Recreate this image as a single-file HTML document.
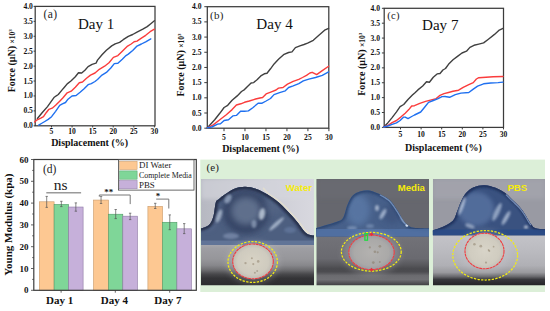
<!DOCTYPE html>
<html><head><meta charset="utf-8"><style>
html,body{margin:0;padding:0;background:#fff;}
body{width:550px;height:311px;overflow:hidden;position:relative;}
svg{position:absolute;left:0;top:0;display:block;}
text{font-family:"Liberation Serif",serif;fill:#111;}
.tk{font-size:7.6px;font-weight:bold;}
.tkd{font-size:9px;font-weight:bold;}
.xl{font-size:10px;font-weight:bold;}
.yl{font-size:10px;font-weight:bold;}
.yls{font-size:7.5px;font-weight:bold;}
.yls2{font-size:5px;font-weight:bold;}
.pl{font-size:11.5px;fill:#222;}
.day{font-size:16px;fill:#111;}
.dl{font-size:11px;font-weight:bold;}
.ns{font-size:15.5px;fill:#222;}
.star{font-size:9px;font-weight:bold;}
.lg{font-size:8.9px;fill:#222;}
.ph{font-family:"Liberation Sans",sans-serif;font-size:9.6px;font-weight:bold;fill:#f6ec0a;}
</style></head><body>
<svg width="550" height="311" viewBox="0 0 550 311">
<rect x="35.2" y="6.4" width="119.8" height="119.39999999999999" fill="none" stroke="#3c3c3c" stroke-width="1.25"/>
<line x1="33.6" y1="125.80" x2="35.2" y2="125.80" stroke="#3c3c3c" stroke-width="1"/>
<text x="32.9" y="128.30" class="tk" text-anchor="end">0.0</text>
<line x1="33.6" y1="110.88" x2="35.2" y2="110.88" stroke="#3c3c3c" stroke-width="1"/>
<text x="32.9" y="113.38" class="tk" text-anchor="end">0.5</text>
<line x1="33.6" y1="95.95" x2="35.2" y2="95.95" stroke="#3c3c3c" stroke-width="1"/>
<text x="32.9" y="98.45" class="tk" text-anchor="end">1.0</text>
<line x1="33.6" y1="81.03" x2="35.2" y2="81.03" stroke="#3c3c3c" stroke-width="1"/>
<text x="32.9" y="83.53" class="tk" text-anchor="end">1.5</text>
<line x1="33.6" y1="66.10" x2="35.2" y2="66.10" stroke="#3c3c3c" stroke-width="1"/>
<text x="32.9" y="68.60" class="tk" text-anchor="end">2.0</text>
<line x1="33.6" y1="51.17" x2="35.2" y2="51.17" stroke="#3c3c3c" stroke-width="1"/>
<text x="32.9" y="53.67" class="tk" text-anchor="end">2.5</text>
<line x1="33.6" y1="36.25" x2="35.2" y2="36.25" stroke="#3c3c3c" stroke-width="1"/>
<text x="32.9" y="38.75" class="tk" text-anchor="end">3.0</text>
<line x1="33.6" y1="21.33" x2="35.2" y2="21.33" stroke="#3c3c3c" stroke-width="1"/>
<text x="32.9" y="23.83" class="tk" text-anchor="end">3.5</text>
<line x1="33.6" y1="6.40" x2="35.2" y2="6.40" stroke="#3c3c3c" stroke-width="1"/>
<text x="32.9" y="8.90" class="tk" text-anchor="end">4.0</text>
<line x1="51.50" y1="125.8" x2="51.50" y2="127.39999999999999" stroke="#3c3c3c" stroke-width="1"/>
<text x="51.50" y="133.6" class="tk" text-anchor="middle">5</text>
<line x1="72.08" y1="125.8" x2="72.08" y2="127.39999999999999" stroke="#3c3c3c" stroke-width="1"/>
<text x="72.08" y="133.6" class="tk" text-anchor="middle">10</text>
<line x1="92.66" y1="125.8" x2="92.66" y2="127.39999999999999" stroke="#3c3c3c" stroke-width="1"/>
<text x="92.66" y="133.6" class="tk" text-anchor="middle">15</text>
<line x1="113.24" y1="125.8" x2="113.24" y2="127.39999999999999" stroke="#3c3c3c" stroke-width="1"/>
<text x="113.24" y="133.6" class="tk" text-anchor="middle">20</text>
<line x1="133.82" y1="125.8" x2="133.82" y2="127.39999999999999" stroke="#3c3c3c" stroke-width="1"/>
<text x="133.82" y="133.6" class="tk" text-anchor="middle">25</text>
<line x1="154.40" y1="125.8" x2="154.40" y2="127.39999999999999" stroke="#3c3c3c" stroke-width="1"/>
<text x="154.40" y="133.6" class="tk" text-anchor="middle">30</text>
<text x="89.6" y="145.5" class="xl" text-anchor="middle">Displacement (%)</text>
<text transform="translate(15.4,92.3) rotate(-90)" class="yl" text-anchor="start">Force (μN) <tspan class="yls">×10</tspan><tspan class="yls2" dy="-3">3</tspan></text>
<text x="43.6" y="17.9" class="pl" style="font-size:11.5px;letter-spacing:0.3px">(a)</text>
<text x="78" y="28.8" class="day" style="font-size:15px">Day 1</text>
<polyline points="37.4,118.5 42.1,112.7 47.5,106.6 50.9,101.9 54.3,97.2 56.3,95.8 58.3,94.5 61.7,90.4 64.4,87.2 67.2,83.9 71.2,80.7 75.3,76.7 78.5,72.7 81.7,73.0 84.9,70.3 88.1,66.6 92.1,64.3 96.0,63.2 97.5,60.1 102.0,54.8 106.4,50.3 111.7,45.9 115.2,43.8 119.6,42.4 123.2,39.7 128.3,36.4 132.7,34.5 137.0,32.1 142.8,29.2 147.2,26.6 150.8,23.7 154.4,20.8" fill="none" stroke="#404040" stroke-width="1.4" stroke-linejoin="round" stroke-linecap="round"/>
<polyline points="34.7,122.1 36.7,120.1 40.8,118.1 43.5,116.7 46.2,112.7 48.9,109.3 52.2,108.2 55.6,105.3 59.7,101.2 63.0,97.8 67.2,92.8 71.2,91.2 75.3,87.2 79.3,82.7 82.5,82.0 86.5,78.3 90.5,75.1 95.0,73.0 99.3,69.3 104.6,66.2 109.0,62.7 113.4,57.4 117.9,55.6 122.3,51.2 127.6,46.1 131.2,44.0 134.1,41.8 137.0,41.1 141.4,38.2 145.7,35.3 150.1,31.7 154.4,29.2" fill="none" stroke="#fa3c3c" stroke-width="1.4" stroke-linejoin="round" stroke-linecap="round"/>
<polyline points="38.7,125.2 41.4,123.5 44.8,121.5 48.2,119.4 51.6,116.7 55.6,111.3 59.7,105.3 62.4,103.9 65.5,102.5 68.0,99.2 72.0,96.0 76.1,95.5 80.1,92.3 84.1,88.8 88.1,84.7 91.3,83.6 95.0,81.5 97.5,79.5 102.0,75.1 106.4,72.4 110.8,68.0 114.3,63.6 117.9,63.2 122.3,59.2 126.0,55.6 128.3,54.1 132.7,50.5 137.0,46.1 141.4,44.0 145.7,41.8 150.8,38.9" fill="none" stroke="#1f70f0" stroke-width="1.4" stroke-linejoin="round" stroke-linecap="round"/>
<rect x="207.3" y="6.7" width="121.5" height="121.49999999999999" fill="none" stroke="#3c3c3c" stroke-width="1.25"/>
<line x1="204.3" y1="128.20" x2="207.3" y2="128.20" stroke="#3c3c3c" stroke-width="1"/>
<text x="201.5" y="130.70" class="tk" text-anchor="end">0.0</text>
<line x1="204.3" y1="113.01" x2="207.3" y2="113.01" stroke="#3c3c3c" stroke-width="1"/>
<text x="201.5" y="115.51" class="tk" text-anchor="end">0.5</text>
<line x1="204.3" y1="97.82" x2="207.3" y2="97.82" stroke="#3c3c3c" stroke-width="1"/>
<text x="201.5" y="100.32" class="tk" text-anchor="end">1.0</text>
<line x1="204.3" y1="82.64" x2="207.3" y2="82.64" stroke="#3c3c3c" stroke-width="1"/>
<text x="201.5" y="85.14" class="tk" text-anchor="end">1.5</text>
<line x1="204.3" y1="67.45" x2="207.3" y2="67.45" stroke="#3c3c3c" stroke-width="1"/>
<text x="201.5" y="69.95" class="tk" text-anchor="end">2.0</text>
<line x1="204.3" y1="52.26" x2="207.3" y2="52.26" stroke="#3c3c3c" stroke-width="1"/>
<text x="201.5" y="54.76" class="tk" text-anchor="end">2.5</text>
<line x1="204.3" y1="37.08" x2="207.3" y2="37.08" stroke="#3c3c3c" stroke-width="1"/>
<text x="201.5" y="39.58" class="tk" text-anchor="end">3.0</text>
<line x1="204.3" y1="21.89" x2="207.3" y2="21.89" stroke="#3c3c3c" stroke-width="1"/>
<text x="201.5" y="24.39" class="tk" text-anchor="end">3.5</text>
<line x1="204.3" y1="6.70" x2="207.3" y2="6.70" stroke="#3c3c3c" stroke-width="1"/>
<text x="201.5" y="9.20" class="tk" text-anchor="end">4.0</text>
<line x1="224.00" y1="128.2" x2="224.00" y2="131.2" stroke="#3c3c3c" stroke-width="1"/>
<text x="224.00" y="139.7" class="tk" text-anchor="middle">5</text>
<line x1="244.98" y1="128.2" x2="244.98" y2="131.2" stroke="#3c3c3c" stroke-width="1"/>
<text x="244.98" y="139.7" class="tk" text-anchor="middle">10</text>
<line x1="265.96" y1="128.2" x2="265.96" y2="131.2" stroke="#3c3c3c" stroke-width="1"/>
<text x="265.96" y="139.7" class="tk" text-anchor="middle">15</text>
<line x1="286.94" y1="128.2" x2="286.94" y2="131.2" stroke="#3c3c3c" stroke-width="1"/>
<text x="286.94" y="139.7" class="tk" text-anchor="middle">20</text>
<line x1="307.92" y1="128.2" x2="307.92" y2="131.2" stroke="#3c3c3c" stroke-width="1"/>
<text x="307.92" y="139.7" class="tk" text-anchor="middle">25</text>
<line x1="328.90" y1="128.2" x2="328.90" y2="131.2" stroke="#3c3c3c" stroke-width="1"/>
<text x="328.90" y="139.7" class="tk" text-anchor="middle">30</text>
<text x="260.6" y="152" class="xl" text-anchor="middle">Displacement (%)</text>
<text transform="translate(184,96.5) rotate(-90)" class="yl" text-anchor="start">Force (μN) <tspan class="yls">×10</tspan><tspan class="yls2" dy="-3">3</tspan></text>
<text x="210" y="18.9" class="pl" style="font-size:11px;letter-spacing:0.3px">(b)</text>
<text x="256.3" y="28.6" class="day" style="font-size:15.1px">Day 4</text>
<polyline points="207.4,127.8 214.7,119.8 219.8,113.3 224.1,107.5 227.7,105.3 232.1,100.2 237.2,95.9 241.5,91.5 244.5,89.6 247.5,86.5 251.1,83.0 253.7,82.6 257.3,79.4 260.8,75.9 264.3,73.8 267.0,73.3 270.5,68.8 274.1,63.9 278.5,59.3 284.1,54.3 288.6,52.5 292.0,51.9 295.4,47.6 299.9,45.8 304.0,44.5 307.6,43.2 313.3,40.3 318.9,35.3 324.6,30.2 328.6,28.3" fill="none" stroke="#404040" stroke-width="1.4" stroke-linejoin="round" stroke-linecap="round"/>
<polyline points="207.4,127.8 213.2,124.9 219.8,119.8 226.3,114.7 232.1,109.6 236.4,105.0 240.8,103.8 244.5,102.3 249.3,101.0 254.6,99.3 259.9,98.0 262.6,97.5 266.1,93.9 271.4,91.8 276.0,90.0 278.5,88.1 283.0,87.5 287.5,84.1 293.2,81.4 298.8,79.4 302.5,77.5 306.5,75.3 309.9,73.0 312.2,72.3 316.7,74.6 321.2,71.4 328.6,66.2" fill="none" stroke="#fa3c3c" stroke-width="1.4" stroke-linejoin="round" stroke-linecap="round"/>
<polyline points="207.4,127.8 211.8,127.0 217.6,124.1 220.5,123.8 224.1,120.5 228.5,119.8 232.8,115.9 236.4,115.4 240.8,111.1 244.5,111.2 248.4,110.9 252.8,107.7 258.1,103.3 261.7,103.3 266.1,101.0 270.5,98.5 274.0,94.6 279.6,92.6 285.3,90.8 288.6,87.5 293.2,85.9 298.8,83.6 303.3,80.9 308.8,79.1 315.5,77.5 322.3,75.3 328.6,71.9" fill="none" stroke="#1f70f0" stroke-width="1.4" stroke-linejoin="round" stroke-linecap="round"/>
<rect x="384.2" y="8.3" width="119.30000000000001" height="119.10000000000001" fill="none" stroke="#3c3c3c" stroke-width="1.25"/>
<line x1="381.9" y1="127.40" x2="384.2" y2="127.40" stroke="#3c3c3c" stroke-width="1"/>
<text x="380" y="129.90" class="tk" text-anchor="end">0.0</text>
<line x1="381.9" y1="112.51" x2="384.2" y2="112.51" stroke="#3c3c3c" stroke-width="1"/>
<text x="380" y="115.01" class="tk" text-anchor="end">0.5</text>
<line x1="381.9" y1="97.62" x2="384.2" y2="97.62" stroke="#3c3c3c" stroke-width="1"/>
<text x="380" y="100.12" class="tk" text-anchor="end">1.0</text>
<line x1="381.9" y1="82.74" x2="384.2" y2="82.74" stroke="#3c3c3c" stroke-width="1"/>
<text x="380" y="85.24" class="tk" text-anchor="end">1.5</text>
<line x1="381.9" y1="67.85" x2="384.2" y2="67.85" stroke="#3c3c3c" stroke-width="1"/>
<text x="380" y="70.35" class="tk" text-anchor="end">2.0</text>
<line x1="381.9" y1="52.96" x2="384.2" y2="52.96" stroke="#3c3c3c" stroke-width="1"/>
<text x="380" y="55.46" class="tk" text-anchor="end">2.5</text>
<line x1="381.9" y1="38.08" x2="384.2" y2="38.08" stroke="#3c3c3c" stroke-width="1"/>
<text x="380" y="40.58" class="tk" text-anchor="end">3.0</text>
<line x1="381.9" y1="23.19" x2="384.2" y2="23.19" stroke="#3c3c3c" stroke-width="1"/>
<text x="380" y="25.69" class="tk" text-anchor="end">3.5</text>
<line x1="381.9" y1="8.30" x2="384.2" y2="8.30" stroke="#3c3c3c" stroke-width="1"/>
<text x="380" y="10.80" class="tk" text-anchor="end">4.0</text>
<line x1="400.50" y1="127.4" x2="400.50" y2="129.4" stroke="#3c3c3c" stroke-width="1"/>
<text x="400.50" y="136.8" class="tk" text-anchor="middle">5</text>
<line x1="421.10" y1="127.4" x2="421.10" y2="129.4" stroke="#3c3c3c" stroke-width="1"/>
<text x="421.10" y="136.8" class="tk" text-anchor="middle">10</text>
<line x1="441.70" y1="127.4" x2="441.70" y2="129.4" stroke="#3c3c3c" stroke-width="1"/>
<text x="441.70" y="136.8" class="tk" text-anchor="middle">15</text>
<line x1="462.30" y1="127.4" x2="462.30" y2="129.4" stroke="#3c3c3c" stroke-width="1"/>
<text x="462.30" y="136.8" class="tk" text-anchor="middle">20</text>
<line x1="482.90" y1="127.4" x2="482.90" y2="129.4" stroke="#3c3c3c" stroke-width="1"/>
<text x="482.90" y="136.8" class="tk" text-anchor="middle">25</text>
<line x1="503.50" y1="127.4" x2="503.50" y2="129.4" stroke="#3c3c3c" stroke-width="1"/>
<text x="503.50" y="136.8" class="tk" text-anchor="middle">30</text>
<text x="443.4" y="151.2" class="xl" text-anchor="middle">Displacement (%)</text>
<text transform="translate(364.5,95.8) rotate(-90)" class="yl" text-anchor="start">Force (μN) <tspan class="yls">×10</tspan><tspan class="yls2" dy="-3">3</tspan></text>
<text x="387.2" y="19.4" class="pl" style="font-size:10.6px;letter-spacing:0.3px">(c)</text>
<text x="422" y="30.1" class="day" style="font-size:15.1px">Day 7</text>
<polyline points="383.7,127.0 387.8,122.9 392.1,117.6 396.5,111.8 400.1,106.7 403.7,104.5 408.0,99.5 412.4,95.1 415.0,92.7 417.9,89.9 422.7,86.0 426.5,81.8 429.4,82.2 433.3,77.3 437.1,73.9 440.0,73.5 442.9,70.0 445.5,68.5 448.5,64.3 453.0,59.8 457.5,56.4 462.0,53.0 466.5,51.2 469.9,47.4 474.0,45.3 478.8,44.1 483.6,42.9 488.4,39.2 494.5,34.4 499.3,30.1 503.0,28.4" fill="none" stroke="#404040" stroke-width="1.4" stroke-linejoin="round" stroke-linecap="round"/>
<polyline points="383.7,127.0 387.8,125.5 392.1,122.6 396.5,120.5 400.8,117.1 405.2,113.2 408.8,109.6 411.7,106.0 414.5,105.7 419.8,103.4 425.6,101.4 430.4,100.1 436.2,98.6 440.0,95.3 444.0,93.6 448.5,92.5 453.0,91.3 458.6,90.2 463.2,87.3 468.8,84.6 473.3,82.6 476.4,79.0 478.8,77.7 486.0,77.3 493.2,76.8 503.0,76.5" fill="none" stroke="#fa3c3c" stroke-width="1.4" stroke-linejoin="round" stroke-linecap="round"/>
<polyline points="383.7,127.0 387.8,126.0 392.1,124.4 396.5,122.9 400.1,120.5 403.7,117.1 405.2,117.1 408.0,118.6 411.7,116.5 414.5,115.0 420.7,112.0 424.6,107.2 428.5,102.4 433.3,100.5 438.1,98.6 442.0,96.6 445.0,96.5 449.6,97.3 455.3,94.7 460.9,93.1 468.8,92.5 473.3,89.1 477.6,86.2 483.6,83.8 490.8,83.0 498.1,82.6 503.0,82.1" fill="none" stroke="#1f70f0" stroke-width="1.4" stroke-linejoin="round" stroke-linecap="round"/>
<rect x="39.3" y="201.79" width="14.8" height="88.51" fill="#fdc892" stroke="#c89a6a" stroke-width="0.6"/>
<rect x="54.1" y="204.41" width="14.5" height="85.89" fill="#7fd698" stroke="#4f9a66" stroke-width="0.6"/>
<rect x="68.6" y="207.02" width="14.5" height="83.28" fill="#c6b0da" stroke="#8f7aa6" stroke-width="0.6"/>
<rect x="93.5" y="200.05" width="15.1" height="90.25" fill="#fdc892" stroke="#c89a6a" stroke-width="0.6"/>
<rect x="108.6" y="214.22" width="14.2" height="76.08" fill="#7fd698" stroke="#4f9a66" stroke-width="0.6"/>
<rect x="122.8" y="216.18" width="14.7" height="74.12" fill="#c6b0da" stroke="#8f7aa6" stroke-width="0.6"/>
<rect x="147.9" y="206.37" width="14.7" height="83.93" fill="#fdc892" stroke="#c89a6a" stroke-width="0.6"/>
<rect x="162.6" y="222.28" width="14.3" height="68.02" fill="#7fd698" stroke="#4f9a66" stroke-width="0.6"/>
<rect x="176.9" y="228.82" width="14.6" height="61.48" fill="#c6b0da" stroke="#8f7aa6" stroke-width="0.6"/>
<line x1="46.70" y1="196.4" x2="46.70" y2="207.4" stroke="#555" stroke-width="0.7"/>
<line x1="45.50" y1="196.4" x2="47.90" y2="196.4" stroke="#555" stroke-width="0.7"/>
<line x1="45.50" y1="207.4" x2="47.90" y2="207.4" stroke="#555" stroke-width="0.7"/>
<line x1="61.35" y1="201.3" x2="61.35" y2="206.6" stroke="#555" stroke-width="0.7"/>
<line x1="60.15" y1="201.3" x2="62.55" y2="201.3" stroke="#555" stroke-width="0.7"/>
<line x1="60.15" y1="206.6" x2="62.55" y2="206.6" stroke="#555" stroke-width="0.7"/>
<line x1="75.85" y1="202.9" x2="75.85" y2="211.2" stroke="#555" stroke-width="0.7"/>
<line x1="74.65" y1="202.9" x2="77.05" y2="202.9" stroke="#555" stroke-width="0.7"/>
<line x1="74.65" y1="211.2" x2="77.05" y2="211.2" stroke="#555" stroke-width="0.7"/>
<line x1="101.05" y1="196.4" x2="101.05" y2="203.5" stroke="#555" stroke-width="0.7"/>
<line x1="99.85" y1="196.4" x2="102.25" y2="196.4" stroke="#555" stroke-width="0.7"/>
<line x1="99.85" y1="203.5" x2="102.25" y2="203.5" stroke="#555" stroke-width="0.7"/>
<line x1="115.70" y1="209.5" x2="115.70" y2="218.6" stroke="#555" stroke-width="0.7"/>
<line x1="114.50" y1="209.5" x2="116.90" y2="209.5" stroke="#555" stroke-width="0.7"/>
<line x1="114.50" y1="218.6" x2="116.90" y2="218.6" stroke="#555" stroke-width="0.7"/>
<line x1="130.15" y1="213.2" x2="130.15" y2="219.6" stroke="#555" stroke-width="0.7"/>
<line x1="128.95" y1="213.2" x2="131.35" y2="213.2" stroke="#555" stroke-width="0.7"/>
<line x1="128.95" y1="219.6" x2="131.35" y2="219.6" stroke="#555" stroke-width="0.7"/>
<line x1="155.25" y1="203.3" x2="155.25" y2="208.5" stroke="#555" stroke-width="0.7"/>
<line x1="154.05" y1="203.3" x2="156.45" y2="203.3" stroke="#555" stroke-width="0.7"/>
<line x1="154.05" y1="208.5" x2="156.45" y2="208.5" stroke="#555" stroke-width="0.7"/>
<line x1="169.75" y1="214.9" x2="169.75" y2="229.7" stroke="#555" stroke-width="0.7"/>
<line x1="168.55" y1="214.9" x2="170.95" y2="214.9" stroke="#555" stroke-width="0.7"/>
<line x1="168.55" y1="229.7" x2="170.95" y2="229.7" stroke="#555" stroke-width="0.7"/>
<line x1="184.20" y1="223.6" x2="184.20" y2="233.6" stroke="#555" stroke-width="0.7"/>
<line x1="183.00" y1="223.6" x2="185.40" y2="223.6" stroke="#555" stroke-width="0.7"/>
<line x1="183.00" y1="233.6" x2="185.40" y2="233.6" stroke="#555" stroke-width="0.7"/>
<rect x="33.8" y="159.5" width="162.5" height="130.8" fill="none" stroke="#3c3c3c" stroke-width="1.2"/>
<line x1="30.999999999999996" y1="290.30" x2="33.8" y2="290.30" stroke="#3c3c3c" stroke-width="0.8"/>
<text x="28.6" y="293.30" class="tkd" text-anchor="end">0</text>
<line x1="32.199999999999996" y1="279.40" x2="33.8" y2="279.40" stroke="#3c3c3c" stroke-width="0.8"/>
<line x1="30.999999999999996" y1="268.50" x2="33.8" y2="268.50" stroke="#3c3c3c" stroke-width="0.8"/>
<text x="28.6" y="271.50" class="tkd" text-anchor="end">10</text>
<line x1="32.199999999999996" y1="257.60" x2="33.8" y2="257.60" stroke="#3c3c3c" stroke-width="0.8"/>
<line x1="30.999999999999996" y1="246.70" x2="33.8" y2="246.70" stroke="#3c3c3c" stroke-width="0.8"/>
<text x="28.6" y="249.70" class="tkd" text-anchor="end">20</text>
<line x1="32.199999999999996" y1="235.80" x2="33.8" y2="235.80" stroke="#3c3c3c" stroke-width="0.8"/>
<line x1="30.999999999999996" y1="224.90" x2="33.8" y2="224.90" stroke="#3c3c3c" stroke-width="0.8"/>
<text x="28.6" y="227.90" class="tkd" text-anchor="end">30</text>
<line x1="32.199999999999996" y1="214.00" x2="33.8" y2="214.00" stroke="#3c3c3c" stroke-width="0.8"/>
<line x1="30.999999999999996" y1="203.10" x2="33.8" y2="203.10" stroke="#3c3c3c" stroke-width="0.8"/>
<text x="28.6" y="206.10" class="tkd" text-anchor="end">40</text>
<line x1="32.199999999999996" y1="192.20" x2="33.8" y2="192.20" stroke="#3c3c3c" stroke-width="0.8"/>
<line x1="30.999999999999996" y1="181.30" x2="33.8" y2="181.30" stroke="#3c3c3c" stroke-width="0.8"/>
<text x="28.6" y="184.30" class="tkd" text-anchor="end">50</text>
<line x1="32.199999999999996" y1="170.40" x2="33.8" y2="170.40" stroke="#3c3c3c" stroke-width="0.8"/>
<line x1="30.999999999999996" y1="159.50" x2="33.8" y2="159.50" stroke="#3c3c3c" stroke-width="0.8"/>
<text x="28.6" y="162.50" class="tkd" text-anchor="end">60</text>
<line x1="61.1" y1="290.3" x2="61.1" y2="292.7" stroke="#3c3c3c" stroke-width="0.8"/>
<line x1="115.3" y1="290.3" x2="115.3" y2="292.7" stroke="#3c3c3c" stroke-width="0.8"/>
<line x1="169.7" y1="290.3" x2="169.7" y2="292.7" stroke="#3c3c3c" stroke-width="0.8"/>
<text x="59.6" y="304.1" class="dl" text-anchor="middle">Day 1</text>
<text x="114.4" y="304.1" class="dl" text-anchor="middle">Day 4</text>
<text x="167.9" y="304.1" class="dl" text-anchor="middle">Day 7</text>
<text transform="translate(11.8,224.6) rotate(-90)" class="yl" style="font-size:11px" text-anchor="middle">Young Modulus (kpa)</text>
<text x="43" y="172.6" class="pl">(d)</text>
<text x="53.8" y="190" class="ns">ns</text>
<line x1="46.3" y1="192.8" x2="81.1" y2="192.8" stroke="#9a9a9a" stroke-width="1.6"/>
<polyline points="99.3,196.6 99.3,195 130.2,195 130.2,204.1" fill="none" stroke="#777" stroke-width="1"/>
<text x="108.8" y="195" class="star" text-anchor="middle">**</text>
<polyline points="156.2,199.1 168.8,199.1 168.8,208.5" fill="none" stroke="#777" stroke-width="1"/>
<text x="158" y="198.6" class="star" text-anchor="middle">*</text>
<rect x="118.4" y="159.8" width="75.6" height="30.3" fill="#fff" stroke="#444" stroke-width="0.8"/>
<rect x="119.7" y="161.30" width="17.4" height="8.3" fill="#fdc892" stroke="#c89a6a" stroke-width="0.5"/>
<text x="139" y="168.40" class="lg">DI Water</text>
<rect x="119.7" y="170.90" width="17.4" height="8.3" fill="#7fd698" stroke="#4f9a66" stroke-width="0.5"/>
<text x="139" y="178.00" class="lg" textLength="52.8" lengthAdjust="spacingAndGlyphs">Complete Media</text>
<rect x="119.7" y="180.50" width="17.4" height="8.3" fill="#c6b0da" stroke="#8f7aa6" stroke-width="0.5"/>
<text x="139" y="187.60" class="lg">PBS</text>
<rect x="200.3" y="159.6" width="344.7" height="132.4" fill="#dcefd8"/>
<text x="206.6" y="170.7" class="pl" style="font-size:11px">(e)</text>
<defs>
<filter id="bl1" x="-20%" y="-20%" width="140%" height="140%"><feGaussianBlur stdDeviation="0.5"/></filter>
<filter id="bl2" x="-50%" y="-50%" width="200%" height="200%"><feGaussianBlur stdDeviation="1.2"/></filter>
<filter id="bl3" x="-50%" y="-50%" width="200%" height="200%"><feGaussianBlur stdDeviation="3"/></filter>
<filter id="bl4" x="-50%" y="-50%" width="200%" height="200%"><feGaussianBlur stdDeviation="2"/></filter>
<clipPath id="cp1"><rect x="201" y="179" width="113" height="106.5"/></clipPath>
<clipPath id="cp2"><rect x="316.3" y="179" width="112.7" height="106.5"/></clipPath>
<clipPath id="cp3"><rect x="432.9" y="179" width="112.1" height="106.5"/></clipPath>
<linearGradient id="bgp1" x1="0" y1="0" x2="1" y2="0">
 <stop offset="0" stop-color="#b6b8c1"/><stop offset="0.45" stop-color="#c8c9d1"/><stop offset="1" stop-color="#d8d8df"/>
</linearGradient>
<linearGradient id="lo1" x1="0" y1="0" x2="0" y2="1">
 <stop offset="0" stop-color="#a6a6ac"/><stop offset="0.08" stop-color="#9e9ea3"/><stop offset="0.35" stop-color="#96969a"/><stop offset="0.5" stop-color="#88888c"/>
 <stop offset="0.62" stop-color="#6c6c6f"/><stop offset="0.72" stop-color="#48484b"/><stop offset="0.82" stop-color="#343437"/><stop offset="1" stop-color="#2c2c2f"/>
</linearGradient>
<linearGradient id="lo2" x1="0" y1="0" x2="0" y2="1">
 <stop offset="0" stop-color="#727278"/><stop offset="0.45" stop-color="#6a6a70"/><stop offset="0.58" stop-color="#58585c"/><stop offset="0.66" stop-color="#4a4a4e"/>
 <stop offset="0.72" stop-color="#4c4c50"/><stop offset="0.8" stop-color="#6c6c70"/><stop offset="0.88" stop-color="#707074"/><stop offset="1" stop-color="#3e3e40"/>
</linearGradient>
<linearGradient id="lo3" x1="0" y1="0" x2="0" y2="1">
 <stop offset="0" stop-color="#c3c3c8"/><stop offset="0.3" stop-color="#bbbbc0"/><stop offset="0.6" stop-color="#b0b0b5"/><stop offset="0.74" stop-color="#9a9a9e"/>
 <stop offset="0.82" stop-color="#6a6a6e"/><stop offset="0.88" stop-color="#38383c"/><stop offset="1" stop-color="#232326"/>
</linearGradient>
<radialGradient id="smp1" cx="0.5" cy="0.5" r="0.5">
 <stop offset="0" stop-color="#d8d3c5"/><stop offset="0.75" stop-color="#cfcbbf"/><stop offset="1" stop-color="#bdbab3"/>
</radialGradient>
<radialGradient id="smp2" cx="0.5" cy="0.5" r="0.5">
 <stop offset="0" stop-color="#b4b2b0"/><stop offset="0.75" stop-color="#aaa9a8"/><stop offset="1" stop-color="#9a9aa0"/>
</radialGradient>
<radialGradient id="smp3" cx="0.5" cy="0.5" r="0.5">
 <stop offset="0" stop-color="#d8d4c8"/><stop offset="0.75" stop-color="#d0ccc0"/><stop offset="1" stop-color="#c2bfb8"/>
</radialGradient>
</defs>
<g clip-path="url(#cp1)">
<rect x="201" y="179" width="113" height="67" fill="url(#bgp1)"/>
<rect x="201" y="179" width="113" height="20" fill="#d6d7de" opacity="0.6" filter="url(#bl4)"/>
<rect x="201" y="245" width="113" height="40.5" fill="url(#lo1)"/>
<path d="M199.0,228.6 C199.3,228.6 199.3,229.0 201.0,228.4 C202.7,227.8 206.9,227.1 209.0,225.0 C211.1,222.9 212.4,219.8 213.5,216.0 C214.6,212.2 214.9,205.3 215.8,202.5 C216.7,199.7 217.5,200.3 219.0,199.0 C220.5,197.7 222.3,196.3 224.8,194.6 C227.3,192.9 230.4,190.3 233.8,189.0 C237.2,187.7 241.2,186.8 245.0,186.8 C248.8,186.8 252.5,187.7 256.3,189.0 C260.1,190.3 263.9,192.3 267.6,194.6 C271.4,196.8 275.1,199.3 278.8,202.5 C282.5,205.7 286.7,210.3 290.0,213.8 C293.3,217.3 296.2,220.6 298.5,223.5 C300.8,226.4 302.4,229.2 304.0,231.0 C305.6,232.8 306.6,233.5 308.0,234.2 C309.4,234.9 311.3,235.2 312.6,235.4 C313.9,235.6 315.4,235.6 316.0,235.6 L316,235.6 L316,245 L199,245 L199,228.6 Z" fill="#34466e" filter="url(#bl1)"/>
<clipPath id="dc1"><path d="M199.0,228.6 C199.3,228.6 199.3,229.0 201.0,228.4 C202.7,227.8 206.9,227.1 209.0,225.0 C211.1,222.9 212.4,219.8 213.5,216.0 C214.6,212.2 214.9,205.3 215.8,202.5 C216.7,199.7 217.5,200.3 219.0,199.0 C220.5,197.7 222.3,196.3 224.8,194.6 C227.3,192.9 230.4,190.3 233.8,189.0 C237.2,187.7 241.2,186.8 245.0,186.8 C248.8,186.8 252.5,187.7 256.3,189.0 C260.1,190.3 263.9,192.3 267.6,194.6 C271.4,196.8 275.1,199.3 278.8,202.5 C282.5,205.7 286.7,210.3 290.0,213.8 C293.3,217.3 296.2,220.6 298.5,223.5 C300.8,226.4 302.4,229.2 304.0,231.0 C305.6,232.8 306.6,233.5 308.0,234.2 C309.4,234.9 311.3,235.2 312.6,235.4 C313.9,235.6 315.4,235.6 316.0,235.6 L316,235.6 L316,245 L199,245 L199,228.6 Z"/></clipPath>
<g clip-path="url(#dc1)">
<path d="M199.0,228.6 C199.3,228.6 199.3,229.0 201.0,228.4 C202.7,227.8 206.9,227.1 209.0,225.0 C211.1,222.9 212.4,219.8 213.5,216.0 C214.6,212.2 214.9,205.3 215.8,202.5 C216.7,199.7 217.5,200.3 219.0,199.0 C220.5,197.7 222.3,196.3 224.8,194.6 C227.3,192.9 230.4,190.3 233.8,189.0 C237.2,187.7 241.2,186.8 245.0,186.8 C248.8,186.8 252.5,187.7 256.3,189.0 C260.1,190.3 263.9,192.3 267.6,194.6 C271.4,196.8 275.1,199.3 278.8,202.5 C282.5,205.7 286.7,210.3 290.0,213.8 C293.3,217.3 296.2,220.6 298.5,223.5 C300.8,226.4 302.4,229.2 304.0,231.0 C305.6,232.8 306.6,233.5 308.0,234.2 C309.4,234.9 311.3,235.2 312.6,235.4 C313.9,235.6 315.4,235.6 316.0,235.6 L316,235.6 L316,245 L199,245 L199,228.6 Z" fill="none" stroke="#34466e" stroke-width="0" />
<rect x="195" y="180" width="125" height="70" fill="#4d5f80"/><ellipse cx="246" cy="212" rx="23" ry="22" fill="#334060" opacity="0.85" filter="url(#bl3)"/><ellipse cx="246" cy="211" rx="15" ry="14" fill="#62728f" opacity="0.95" filter="url(#bl3)"/><ellipse cx="208" cy="221" rx="6" ry="8" fill="#6d7fa0" opacity="0.55" filter="url(#bl3)"/><ellipse cx="272" cy="205" rx="8" ry="10" fill="#5c6c8c" opacity="0.5" filter="url(#bl3)"/><path d="M199.0,228.6 C199.3,228.6 199.3,229.0 201.0,228.4 C202.7,227.8 206.9,227.1 209.0,225.0 C211.1,222.9 212.4,219.8 213.5,216.0 C214.6,212.2 214.9,205.3 215.8,202.5 C216.7,199.7 217.5,200.3 219.0,199.0 C220.5,197.7 222.3,196.3 224.8,194.6 C227.3,192.9 230.4,190.3 233.8,189.0 C237.2,187.7 241.2,186.8 245.0,186.8 C248.8,186.8 252.5,187.7 256.3,189.0 C260.1,190.3 263.9,192.3 267.6,194.6 C271.4,196.8 275.1,199.3 278.8,202.5 C282.5,205.7 286.7,210.3 290.0,213.8 C293.3,217.3 296.2,220.6 298.5,223.5 C300.8,226.4 302.4,229.2 304.0,231.0 C305.6,232.8 306.6,233.5 308.0,234.2 C309.4,234.9 311.3,235.2 312.6,235.4 C313.9,235.6 315.4,235.6 316.0,235.6" fill="none" stroke="#222c44" stroke-width="5" opacity="0.9" filter="url(#bl2)"/><ellipse cx="219" cy="216" rx="2.4" ry="7" fill="#aab8cc" opacity="0.85" transform="rotate(20 219 216)" filter="url(#bl2)"/><ellipse cx="228" cy="199" rx="3" ry="5" fill="#9aaac4" opacity="0.8" transform="rotate(30 228 199)" filter="url(#bl2)"/><ellipse cx="262" cy="214" rx="3" ry="6" fill="#b8c4d4" opacity="0.9" transform="rotate(10 262 214)" filter="url(#bl2)"/><ellipse cx="276.5" cy="224" rx="1.8" ry="10" fill="#b4c2d6" opacity="0.85" transform="rotate(48 276.5 224)" filter="url(#bl2)"/><ellipse cx="254" cy="224" rx="2.5" ry="4" fill="#95a6c0" opacity="0.7" filter="url(#bl2)"/><ellipse cx="231" cy="236" rx="8" ry="3" fill="#8899b8" opacity="0.6" filter="url(#bl2)"/><ellipse cx="290" cy="230" rx="6" ry="3" fill="#6a80a6" opacity="0.6" filter="url(#bl2)"/><rect x="200" y="240.5" width="115" height="4.5" fill="#6a7ea2" opacity="0.7" filter="url(#bl1)"/>
</g>
<ellipse cx="253" cy="262.4" rx="26.5" ry="21.8" fill="#d0d0d6" opacity="0.25" filter="url(#bl3)"/>
<ellipse cx="253" cy="261.4" rx="20.5" ry="17.8" fill="url(#smp1)" filter="url(#bl1)"/>
<circle cx="254.9" cy="272.7" r="1.0" fill="#7a6a52" opacity="0.4" filter="url(#bl1)"/>
<circle cx="251.9" cy="258.2" r="1.0" fill="#7a6a52" opacity="0.4" filter="url(#bl1)"/>
<circle cx="258.2" cy="261.4" r="1.3" fill="#7a6a52" opacity="0.4" filter="url(#bl1)"/>
<circle cx="245.5" cy="263.1" r="1.2" fill="#7a6a52" opacity="0.4" filter="url(#bl1)"/>
<circle cx="257.2" cy="270.9" r="1.0" fill="#7a6a52" opacity="0.4" filter="url(#bl1)"/>
<circle cx="253.3" cy="264.1" r="1.1" fill="#7a6a52" opacity="0.4" filter="url(#bl1)"/>
<ellipse cx="253" cy="261.4" rx="20.3" ry="17.4" fill="none" stroke="#f03c40" stroke-width="1.1" stroke-dasharray="3 0.5"/>
<ellipse cx="252.7" cy="262" rx="24.7" ry="20.4" fill="none" stroke="#f2ec14" stroke-width="1.25" stroke-dasharray="2.3 1.3"/>

<text x="285.8" y="190.6" class="ph">Water</text>
</g>
<path d="M262.0,188.5 C262.9,189.5 264.8,192.3 267.6,194.6 C270.4,196.9 275.1,199.3 278.8,202.5 C282.5,205.7 286.7,210.3 290.0,213.8 C293.3,217.3 296.2,220.6 298.5,223.5 C300.8,226.4 302.4,229.2 304.0,231.0 C305.6,232.8 307.3,233.7 308.0,234.2" fill="none" stroke="#e6e0cc" stroke-width="1.6" opacity="0.8" filter="url(#bl1)" transform="translate(1.2,-0.6)"/>
<g clip-path="url(#cp2)">
<rect x="316.3" y="179" width="112.69999999999999" height="58.400000000000006" fill="#66676e"/>
<rect x="316.3" y="179" width="112.69999999999999" height="20" fill="#6c6d73" opacity="0.6" filter="url(#bl4)"/>
<rect x="316.3" y="236.4" width="112.69999999999999" height="49.099999999999994" fill="url(#lo2)"/>
<path d="M314.0,228.2 C314.4,228.2 314.2,228.5 316.3,228.0 C318.4,227.5 323.1,226.0 326.5,225.0 C329.9,224.0 334.2,223.0 337.0,221.8 C339.8,220.6 341.5,220.5 343.2,217.7 C344.9,214.9 345.8,208.7 347.4,205.0 C349.0,201.3 350.5,197.9 352.6,195.7 C354.7,193.4 357.4,192.4 360.0,191.5 C362.6,190.6 365.3,190.2 368.3,190.5 C371.3,190.8 374.4,191.9 378.0,193.5 C381.6,195.1 386.4,197.2 389.6,200.0 C392.8,202.8 394.8,206.7 397.0,210.0 C399.2,213.3 401.2,217.5 403.0,220.0 C404.8,222.5 406.0,223.8 407.5,225.0 C409.0,226.2 409.9,227.0 412.0,227.5 C414.1,228.0 416.8,228.0 420.0,228.2 C423.2,228.4 429.2,228.4 431.0,228.5 L431,228.5 L431,236.4 L314.3,236.4 L314.3,228.2 Z" fill="#4a6c9e" filter="url(#bl1)"/>
<clipPath id="dc2"><path d="M314.0,228.2 C314.4,228.2 314.2,228.5 316.3,228.0 C318.4,227.5 323.1,226.0 326.5,225.0 C329.9,224.0 334.2,223.0 337.0,221.8 C339.8,220.6 341.5,220.5 343.2,217.7 C344.9,214.9 345.8,208.7 347.4,205.0 C349.0,201.3 350.5,197.9 352.6,195.7 C354.7,193.4 357.4,192.4 360.0,191.5 C362.6,190.6 365.3,190.2 368.3,190.5 C371.3,190.8 374.4,191.9 378.0,193.5 C381.6,195.1 386.4,197.2 389.6,200.0 C392.8,202.8 394.8,206.7 397.0,210.0 C399.2,213.3 401.2,217.5 403.0,220.0 C404.8,222.5 406.0,223.8 407.5,225.0 C409.0,226.2 409.9,227.0 412.0,227.5 C414.1,228.0 416.8,228.0 420.0,228.2 C423.2,228.4 429.2,228.4 431.0,228.5 L431,228.5 L431,236.4 L314.3,236.4 L314.3,228.2 Z"/></clipPath>
<g clip-path="url(#dc2)">
<path d="M314.0,228.2 C314.4,228.2 314.2,228.5 316.3,228.0 C318.4,227.5 323.1,226.0 326.5,225.0 C329.9,224.0 334.2,223.0 337.0,221.8 C339.8,220.6 341.5,220.5 343.2,217.7 C344.9,214.9 345.8,208.7 347.4,205.0 C349.0,201.3 350.5,197.9 352.6,195.7 C354.7,193.4 357.4,192.4 360.0,191.5 C362.6,190.6 365.3,190.2 368.3,190.5 C371.3,190.8 374.4,191.9 378.0,193.5 C381.6,195.1 386.4,197.2 389.6,200.0 C392.8,202.8 394.8,206.7 397.0,210.0 C399.2,213.3 401.2,217.5 403.0,220.0 C404.8,222.5 406.0,223.8 407.5,225.0 C409.0,226.2 409.9,227.0 412.0,227.5 C414.1,228.0 416.8,228.0 420.0,228.2 C423.2,228.4 429.2,228.4 431.0,228.5 L431,228.5 L431,236.4 L314.3,236.4 L314.3,228.2 Z" fill="none" stroke="#4a6c9e" stroke-width="0" />
<rect x="310" y="180" width="125" height="60" fill="#47608a"/><ellipse cx="358" cy="210" rx="12" ry="16" fill="#5f7eac" opacity="0.7" filter="url(#bl3)"/><ellipse cx="392" cy="214" rx="10" ry="10" fill="#3a5078" opacity="0.6" filter="url(#bl3)"/><path d="M314.0,228.2 C314.4,228.2 314.2,228.5 316.3,228.0 C318.4,227.5 323.1,226.0 326.5,225.0 C329.9,224.0 334.2,223.0 337.0,221.8 C339.8,220.6 341.5,220.5 343.2,217.7 C344.9,214.9 345.8,208.7 347.4,205.0 C349.0,201.3 350.5,197.9 352.6,195.7 C354.7,193.4 357.4,192.4 360.0,191.5 C362.6,190.6 365.3,190.2 368.3,190.5 C371.3,190.8 374.4,191.9 378.0,193.5 C381.6,195.1 386.4,197.2 389.6,200.0 C392.8,202.8 394.8,206.7 397.0,210.0 C399.2,213.3 401.2,217.5 403.0,220.0 C404.8,222.5 406.0,223.8 407.5,225.0 C409.0,226.2 409.9,227.0 412.0,227.5 C414.1,228.0 416.8,228.0 420.0,228.2 C423.2,228.4 429.2,228.4 431.0,228.5" fill="none" stroke="#2c4470" stroke-width="4" opacity="0.9" filter="url(#bl2)"/><ellipse cx="383" cy="214" rx="2" ry="6" fill="#b4c4dc" opacity="0.8" transform="rotate(30 383 214)" filter="url(#bl2)"/><ellipse cx="377" cy="208" rx="2" ry="3" fill="#c6d2e4" opacity="0.7" filter="url(#bl2)"/><ellipse cx="404" cy="220" rx="1.5" ry="4.5" fill="#c6d3e6" opacity="0.8" transform="rotate(-40 404 220)" filter="url(#bl2)"/><ellipse cx="352" cy="228" rx="5" ry="2" fill="#8fa6c8" opacity="0.6" filter="url(#bl2)"/><ellipse cx="370" cy="226" rx="4" ry="2" fill="#8fa6c8" opacity="0.5" filter="url(#bl2)"/><path d="M380.0,194.5 C381.6,195.6 386.8,198.2 389.6,201.0 C392.4,203.8 394.8,207.7 397.0,211.0 C399.2,214.3 401.2,218.5 403.0,221.0 C404.8,223.5 406.8,225.2 407.5,226.0" fill="none" stroke="#7f9cc6" stroke-width="1.6" opacity="0.8" filter="url(#bl1)"/><ellipse cx="407" cy="225.5" rx="1.5" ry="1.2" fill="#dfe8f4" opacity="0.9" filter="url(#bl1)"/><rect x="315" y="229" width="116" height="7.5" fill="#5275a8" opacity="0.75" filter="url(#bl1)"/>
</g>
<ellipse cx="371.5" cy="253.3" rx="29" ry="21.7" fill="#d0d0d6" opacity="0.25" filter="url(#bl3)"/>
<ellipse cx="371.5" cy="252.3" rx="23" ry="17.7" fill="url(#smp2)" filter="url(#bl1)"/>
<circle cx="374.9" cy="251.7" r="1.3" fill="#7a6a52" opacity="0.4" filter="url(#bl1)"/>
<circle cx="379.8" cy="262.0" r="0.9" fill="#7a6a52" opacity="0.4" filter="url(#bl1)"/>
<circle cx="379.9" cy="246.3" r="1.4" fill="#7a6a52" opacity="0.4" filter="url(#bl1)"/>
<circle cx="377.7" cy="252.3" r="1.1" fill="#7a6a52" opacity="0.4" filter="url(#bl1)"/>
<circle cx="369.8" cy="247.4" r="1.1" fill="#7a6a52" opacity="0.4" filter="url(#bl1)"/>
<circle cx="373.3" cy="262.6" r="1.4" fill="#7a6a52" opacity="0.4" filter="url(#bl1)"/>
<ellipse cx="371.5" cy="252.3" rx="22.7" ry="17.35" fill="none" stroke="#f03c40" stroke-width="1.1" stroke-dasharray="3 0.5"/>
<ellipse cx="371.3" cy="251.75" rx="29.9" ry="19.35" fill="none" stroke="#f2ec14" stroke-width="1.25" stroke-dasharray="2.3 1.3"/>
<rect x="364.9" y="233.6" width="2.6" height="6.6" fill="none" stroke="#20dc40" stroke-width="1.3"/><path d="M369.6,234.3 L371.5,232.3 L373.4,234.3 L371.5,236.3Z" fill="#e8303c"/><path d="M369.6,269.7 L371.5,267.7 L373.4,269.7 L371.5,271.7Z" fill="#e8303c"/>
<text x="397.7" y="190.6" class="ph">Media</text>
</g>
<g clip-path="url(#cp3)">
<rect x="432.9" y="179" width="112.10000000000002" height="57.19999999999999" fill="#999aa3"/>
<rect x="432.9" y="179" width="112.10000000000002" height="20" fill="#a8a9b1" opacity="0.6" filter="url(#bl4)"/>
<rect x="432.9" y="235.2" width="112.10000000000002" height="50.30000000000001" fill="url(#lo3)"/>
<path d="M431.0,230.4 C431.3,230.4 431.1,230.8 433.0,230.2 C434.9,229.6 439.2,228.6 442.5,227.0 C445.8,225.4 450.5,223.4 452.9,220.8 C455.3,218.2 455.7,214.7 457.1,211.4 C458.5,208.1 459.7,204.0 461.3,200.9 C462.9,197.8 464.4,194.9 466.5,192.6 C468.6,190.3 470.8,188.5 473.8,187.3 C476.8,186.1 480.7,185.1 484.3,185.2 C487.9,185.3 492.0,186.5 495.5,187.8 C499.0,189.2 502.7,191.3 505.5,193.3 C508.3,195.3 510.2,197.8 512.5,200.0 C514.8,202.2 517.2,204.3 519.2,206.5 C521.2,208.7 522.7,210.8 524.2,213.0 C525.7,215.2 527.0,217.8 528.2,219.8 C529.4,221.8 530.3,223.4 531.5,224.8 C532.7,226.2 532.9,227.4 535.5,228.2 C538.1,229.0 545.1,229.3 547.0,229.5 L547,229.5 L547,235.2 L430.9,235.2 L430.9,230.4 Z" fill="#2f4673" filter="url(#bl1)"/>
<clipPath id="dc3"><path d="M431.0,230.4 C431.3,230.4 431.1,230.8 433.0,230.2 C434.9,229.6 439.2,228.6 442.5,227.0 C445.8,225.4 450.5,223.4 452.9,220.8 C455.3,218.2 455.7,214.7 457.1,211.4 C458.5,208.1 459.7,204.0 461.3,200.9 C462.9,197.8 464.4,194.9 466.5,192.6 C468.6,190.3 470.8,188.5 473.8,187.3 C476.8,186.1 480.7,185.1 484.3,185.2 C487.9,185.3 492.0,186.5 495.5,187.8 C499.0,189.2 502.7,191.3 505.5,193.3 C508.3,195.3 510.2,197.8 512.5,200.0 C514.8,202.2 517.2,204.3 519.2,206.5 C521.2,208.7 522.7,210.8 524.2,213.0 C525.7,215.2 527.0,217.8 528.2,219.8 C529.4,221.8 530.3,223.4 531.5,224.8 C532.7,226.2 532.9,227.4 535.5,228.2 C538.1,229.0 545.1,229.3 547.0,229.5 L547,229.5 L547,235.2 L430.9,235.2 L430.9,230.4 Z"/></clipPath>
<g clip-path="url(#dc3)">
<path d="M431.0,230.4 C431.3,230.4 431.1,230.8 433.0,230.2 C434.9,229.6 439.2,228.6 442.5,227.0 C445.8,225.4 450.5,223.4 452.9,220.8 C455.3,218.2 455.7,214.7 457.1,211.4 C458.5,208.1 459.7,204.0 461.3,200.9 C462.9,197.8 464.4,194.9 466.5,192.6 C468.6,190.3 470.8,188.5 473.8,187.3 C476.8,186.1 480.7,185.1 484.3,185.2 C487.9,185.3 492.0,186.5 495.5,187.8 C499.0,189.2 502.7,191.3 505.5,193.3 C508.3,195.3 510.2,197.8 512.5,200.0 C514.8,202.2 517.2,204.3 519.2,206.5 C521.2,208.7 522.7,210.8 524.2,213.0 C525.7,215.2 527.0,217.8 528.2,219.8 C529.4,221.8 530.3,223.4 531.5,224.8 C532.7,226.2 532.9,227.4 535.5,228.2 C538.1,229.0 545.1,229.3 547.0,229.5 L547,229.5 L547,235.2 L430.9,235.2 L430.9,230.4 Z" fill="none" stroke="#2f4673" stroke-width="0" />
<rect x="430" y="180" width="120" height="60" fill="#3a5280"/><ellipse cx="476" cy="209" rx="18" ry="17" fill="#56719f" opacity="0.85" filter="url(#bl4)"/><path d="M431.0,230.4 C431.3,230.4 431.1,230.8 433.0,230.2 C434.9,229.6 439.2,228.6 442.5,227.0 C445.8,225.4 450.5,223.4 452.9,220.8 C455.3,218.2 455.7,214.7 457.1,211.4 C458.5,208.1 459.7,204.0 461.3,200.9 C462.9,197.8 464.4,194.9 466.5,192.6 C468.6,190.3 470.8,188.5 473.8,187.3 C476.8,186.1 480.7,185.1 484.3,185.2 C487.9,185.3 492.0,186.5 495.5,187.8 C499.0,189.2 502.7,191.3 505.5,193.3 C508.3,195.3 510.2,197.8 512.5,200.0 C514.8,202.2 517.2,204.3 519.2,206.5 C521.2,208.7 522.7,210.8 524.2,213.0 C525.7,215.2 527.0,217.8 528.2,219.8 C529.4,221.8 530.3,223.4 531.5,224.8 C532.7,226.2 532.9,227.4 535.5,228.2 C538.1,229.0 545.1,229.3 547.0,229.5" fill="none" stroke="#1d2f58" stroke-width="4" opacity="0.9" filter="url(#bl2)"/><ellipse cx="462" cy="206" rx="1.6" ry="10" fill="#c4d2e6" opacity="0.85" transform="rotate(20 462 206)" filter="url(#bl2)"/><ellipse cx="497" cy="212" rx="2.5" ry="10" fill="#b4c4dc" opacity="0.7" transform="rotate(25 497 212)" filter="url(#bl2)"/><ellipse cx="506" cy="218" rx="2" ry="8" fill="#c6d3e6" opacity="0.7" transform="rotate(30 506 218)" filter="url(#bl2)"/><ellipse cx="470" cy="226" rx="5" ry="2" fill="#c0cde0" opacity="0.6" transform="rotate(20 470 226)" filter="url(#bl2)"/><ellipse cx="526" cy="227" rx="2" ry="1.5" fill="#e0e6ee" opacity="0.8" filter="url(#bl2)"/><path d="M506.0,194.5 C507.1,195.6 510.3,198.8 512.5,201.0 C514.7,203.2 517.2,205.3 519.2,207.5 C521.2,209.7 522.7,211.8 524.2,214.0 C525.7,216.2 527.1,219.0 528.2,220.8 C529.3,222.6 530.5,224.3 531.0,225.0" fill="none" stroke="#8aa4cc" stroke-width="1.5" opacity="0.75" filter="url(#bl1)"/><rect x="430" y="229.5" width="117" height="6" fill="#2c4c88" opacity="0.85" filter="url(#bl1)"/>
</g>
<ellipse cx="484.5" cy="252" rx="25.9" ry="22.2" fill="#d0d0d6" opacity="0.25" filter="url(#bl3)"/>
<ellipse cx="484.5" cy="251" rx="19.9" ry="18.2" fill="url(#smp3)" filter="url(#bl1)"/>
<circle cx="488.6" cy="250.0" r="0.9" fill="#7a6a52" opacity="0.4" filter="url(#bl1)"/>
<circle cx="489.3" cy="251.0" r="1.0" fill="#7a6a52" opacity="0.4" filter="url(#bl1)"/>
<circle cx="480.8" cy="246.2" r="1.4" fill="#7a6a52" opacity="0.4" filter="url(#bl1)"/>
<circle cx="486.0" cy="262.6" r="1.1" fill="#7a6a52" opacity="0.4" filter="url(#bl1)"/>
<circle cx="474.4" cy="244.2" r="1.3" fill="#7a6a52" opacity="0.4" filter="url(#bl1)"/>
<circle cx="493.6" cy="246.7" r="0.9" fill="#7a6a52" opacity="0.4" filter="url(#bl1)"/>
<ellipse cx="484.5" cy="251" rx="19.5" ry="17.8" fill="none" stroke="#f03c40" stroke-width="1.1" stroke-dasharray="3 0.5"/>
<ellipse cx="485.2" cy="255.3" rx="32.4" ry="24.7" fill="none" stroke="#f2ec14" stroke-width="1.25" stroke-dasharray="2.3 1.3"/>

<text x="507.4" y="190.6" class="ph">PBS</text>
</g>
</svg>
</body></html>
